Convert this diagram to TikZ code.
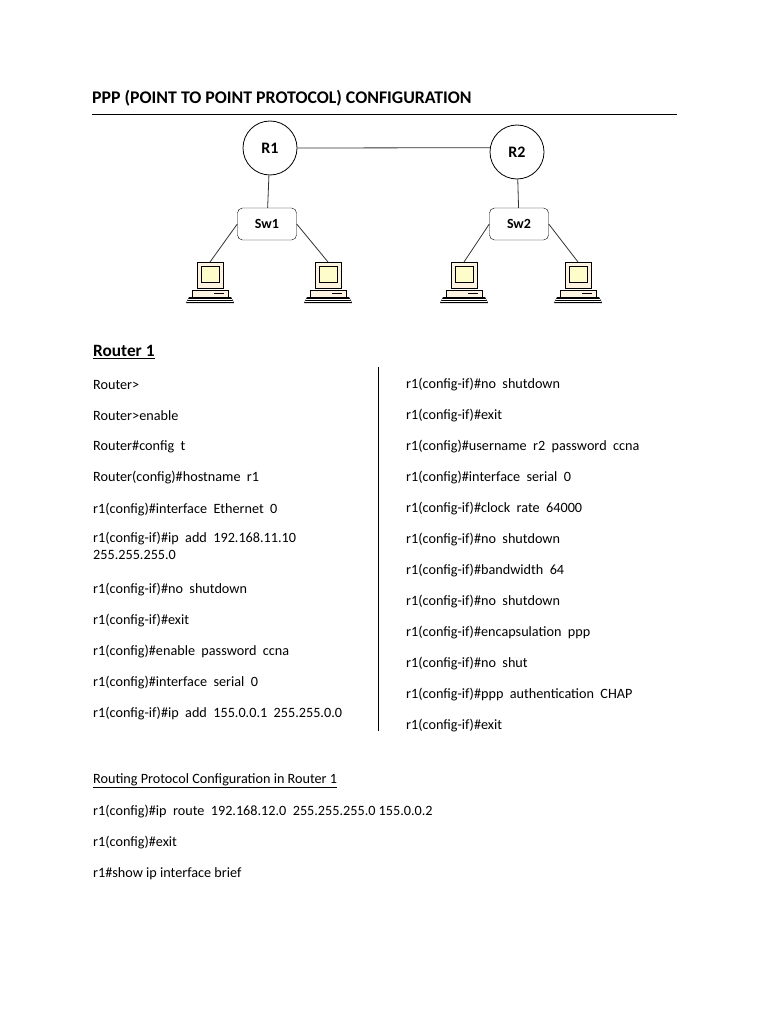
\documentclass[tikz,border=0pt]{standalone}
\usepackage{fontspec}
\setmainfont{Carlito}
\begin{document}
\begin{tikzpicture}[x=1pt,y=-1pt,
  router/.style={circle,draw,thick,minimum size=54pt,inner sep=0pt,font=\bfseries\fontsize{16}{16}\selectfont},
  switch/.style={draw,rounded corners=5pt,minimum width=59pt,minimum height=32pt,inner sep=0pt,font=\bfseries\fontsize{14}{14}\selectfont},
  cmd/.style={anchor=west,inner sep=0pt,font=\fontsize{14.2}{17}\selectfont,align=left},
  link/.style={line width=0.8pt,black!80}]
\useasboundingbox (0,0) rectangle (768,1024);
\node[anchor=west,inner sep=0pt,font=\bfseries\fontsize{17.8}{17.8}\selectfont] (title) at (92,98) {PPP (POINT TO POINT PROTOCOL) CONFIGURATION};
\draw[line width=0.8pt] (92,114) -- (677,114);
\node[router] (r1) at (270,148) {R1};
\node[router] (r2) at (517,152) {R2};
\node[switch] (s1) at (267,224) {Sw1};
\node[switch] (s2) at (519,224) {Sw2};
\coordinate (p1) at (210,262);\coordinate (p2) at (328,262);
\coordinate (p3) at (464,262);\coordinate (p4) at (578,262);
\draw[link] (r1.east) -- (r2.171);
\draw[link] (r1) -- (s1);
\draw[link] (r2) -- (s2);
\draw[link] (s1.west) -- (p1);\draw[link] (s1.east) -- (p2);
\draw[link] (s2.west) -- (p3);\draw[link] (s2.east) -- (p4);
\foreach \p in {p1,p2,p3,p4}{
  \begin{scope}[shift={(\p)}]
  \filldraw[fill=yellow!15!orange!10,draw=black,line width=0.6pt] (-13,0) rectangle (13,26);
  \filldraw[fill=yellow!20,draw=black,line width=0.5pt] (-9,4) rectangle (9,20);
  \filldraw[fill=yellow!15!orange!10,draw=black,line width=0.6pt] (-18,28) rectangle (18,35);
  \draw (4,31) -- (14,31);
  \fill[black] (-21,35) -- (21,35) -- (24,41) -- (-24,41) -- cycle;
  \draw[white,line width=0.4pt] (-22,37) -- (22,37) (-23,39) -- (23,39);
  \end{scope}}
\node[anchor=west,inner sep=0pt,font=\bfseries\fontsize{17.3}{17.3}\selectfont] (h1) at (93,352) {\underline{Router 1}};
\draw[line width=0.8pt] (378,367) -- (378,731);
\foreach \y/\t [count=\i] in {385/Router>,416/Router>enable,447/Router\#config\ \ t,478/Router(config)\#hostname\ \ r1,510/r1(config)\#interface\ \ Ethernet\ \ 0,590/r1(config-if)\#no\ \ shutdown,621/r1(config-if)\#exit,652/r1(config)\#enable\ \ password\ \ ccna,683/r1(config)\#interface\ \ serial\ \ 0,714/r1(config-if)\#ip\ \ add\ \ 155.0.0.1\ \ 255.255.0.0}
  \node[cmd] (l\i) at (93,\y) {\t};
\node[cmd,anchor=north west] (lip) at (93,532) {r1(config-if)\#ip\ \ add\ \ 192.168.11.10\\255.255.255.0};
\foreach \y/\t [count=\i] in {385/r1(config-if)\#no\ \ shutdown,416/r1(config-if)\#exit,447/r1(config)\#username\ \ r2\ \ password\ \ ccna,478/r1(config)\#interface\ \ serial\ \ 0,509/r1(config-if)\#clock\ \ rate\ \ 64000,540/r1(config-if)\#no\ \ shutdown,571/r1(config-if)\#bandwidth\ \ 64,602/r1(config-if)\#no\ \ shutdown,633/r1(config-if)\#encapsulation\ \ ppp,664/r1(config-if)\#no\ \ shut,695/r1(config-if)\#ppp\ \ authentication\ \ CHAP,726/r1(config-if)\#exit}
  \node[cmd] (r\i) at (406,\y) {\t};
\node[cmd] (h2) at (93,781) {\underline{Routing Protocol Configuration in Router 1}};
\node[cmd] (b1) at (93,812) {r1(config)\#ip\ \ route\ \ 192.168.12.0\ \ 255.255.255.0 155.0.0.2};
\node[cmd] (b2) at (93,843) {r1(config)\#exit};
\node[cmd] (b3) at (93,874) {r1\#show ip interface brief};
\end{tikzpicture}
\end{document}
